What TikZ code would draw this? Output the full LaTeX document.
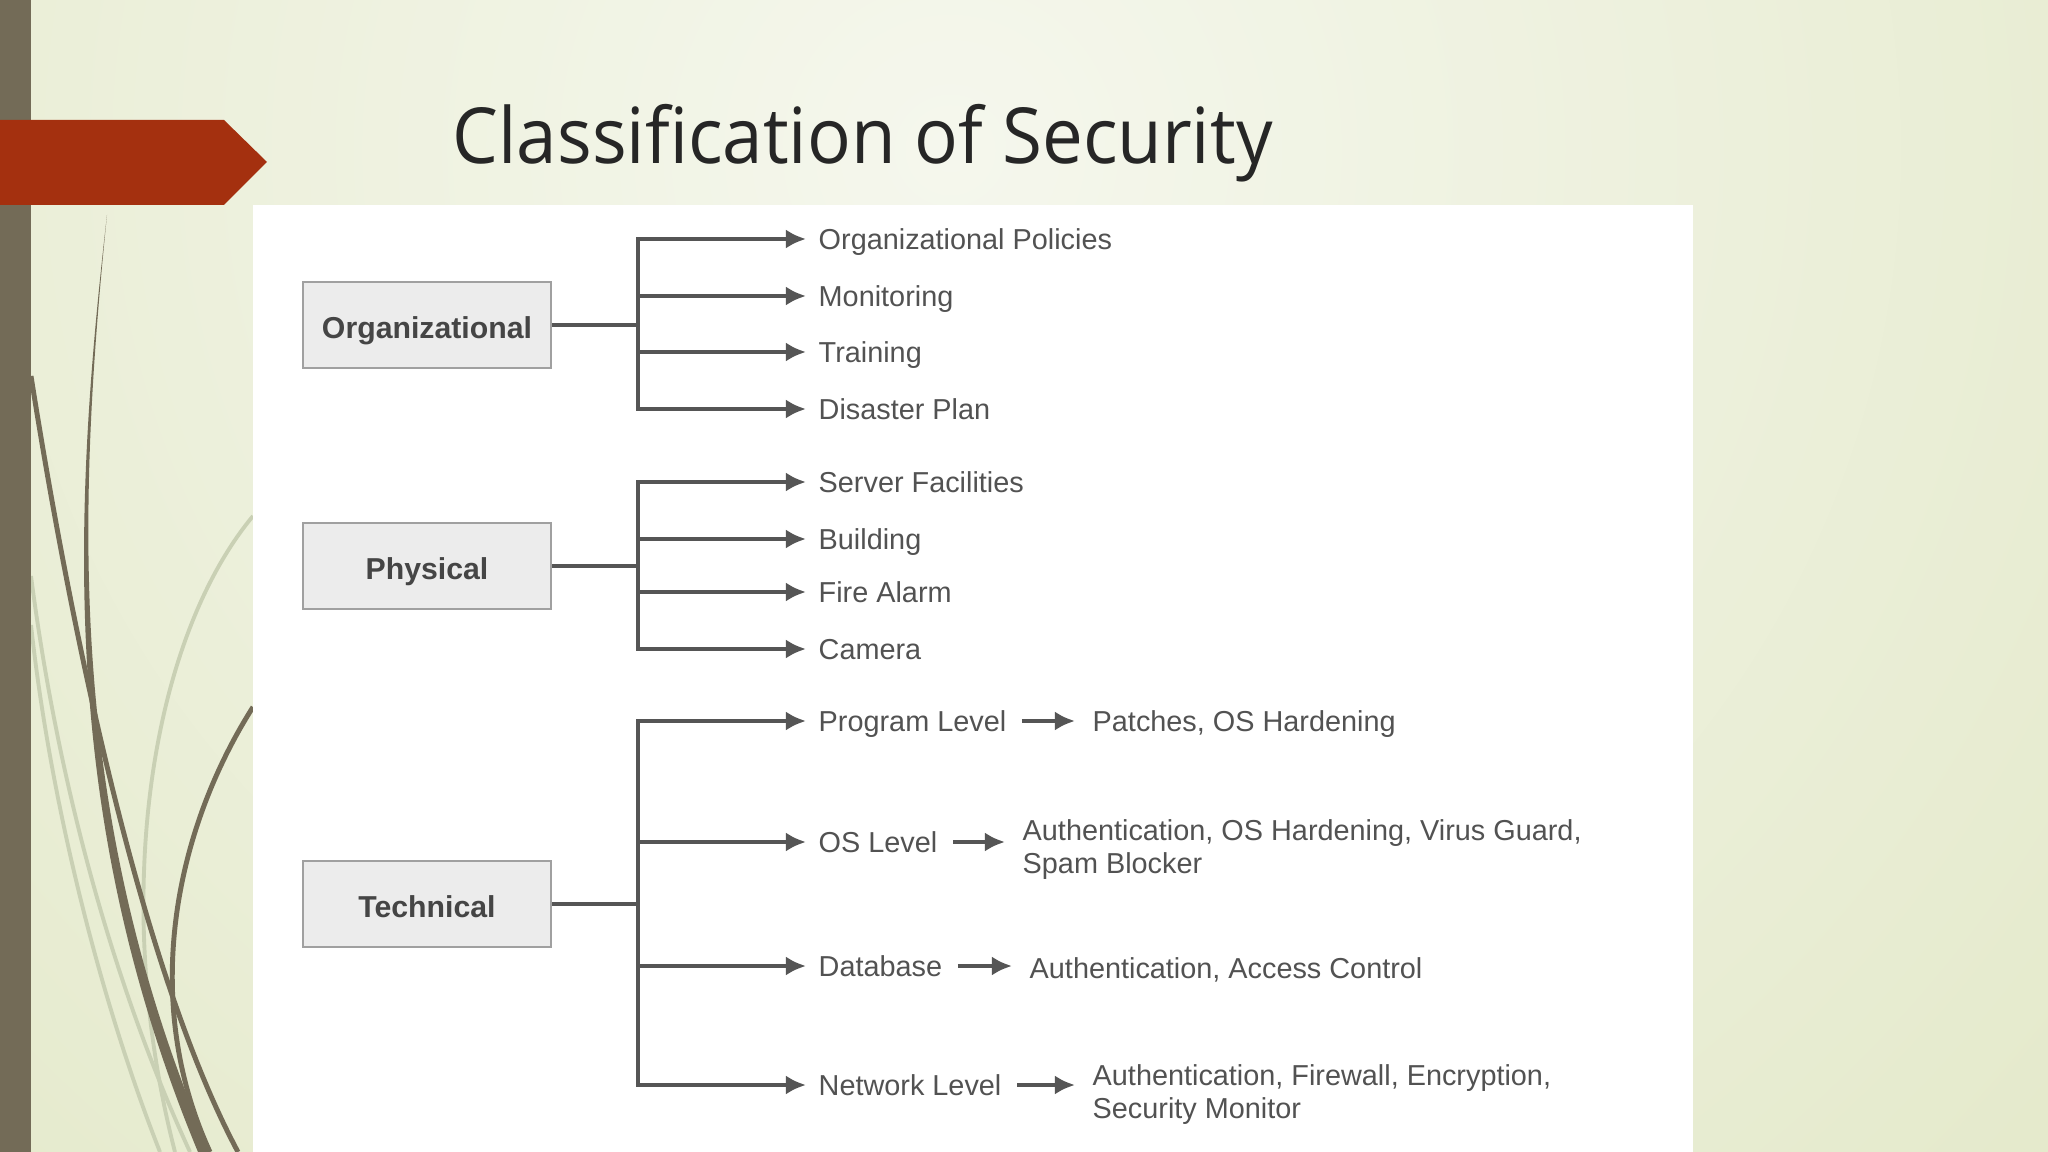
\documentclass[tikz,border=0pt]{standalone}
\usepackage{fontspec}
\usetikzlibrary{arrows.meta}
\setmainfont{Liberation Sans}
\newfontfamily\titlefont{Open Sans}[FakeStretch=0.94]
\definecolor{bglight}{HTML}{F5F7ED}
\definecolor{bgdark}{HTML}{E0E6C2}
\definecolor{bardark}{HTML}{736B57}
\definecolor{lightline}{HTML}{C9D0B4}
\definecolor{ribbon}{HTML}{A4300F}
\definecolor{titlecol}{HTML}{262626}
\definecolor{boxfill}{HTML}{ECECEC}
\definecolor{boxline}{HTML}{A0A0A0}
\definecolor{boxtext}{HTML}{454545}
\definecolor{itemtext}{HTML}{525252}
\definecolor{linecol}{HTML}{555555}
\begin{document}
\begin{tikzpicture}[x=0.01cm,y=-0.01cm,
    catbox/.style={draw=boxline, fill=boxfill, line width=0.8pt, minimum width=2.48cm,
      minimum height=0.86cm, inner sep=0pt, text height=7.6pt, text depth=0pt,
      text=boxtext, font=\bfseries\fontsize{8.6pt}{10pt}\selectfont},
    item/.style={anchor=west, inner xsep=0.12cm, inner ysep=0pt, text height=5.9pt,
      text depth=0pt, text=itemtext, font=\fontsize{8.2pt}{9pt}\selectfont},
    itemtwo/.style={anchor=base west, inner xsep=0.12cm, inner ysep=0pt, align=left,
      text=itemtext, font=\fontsize{8.2pt}{9.3pt}\selectfont},
    link/.style={draw=linecol, line width=1.15pt},
    arr/.style={link, -{Latex[length=0.2cm,width=0.19cm]}},
    arrtwo/.style={arr, shorten <=0.03cm, shorten >=0.05cm},
    darkline/.style={draw=bardark, line width=1.4pt},
    paleline/.style={draw=lightline, line width=1.1pt}]
  %tikz security
  \useasboundingbox (0,0) rectangle (2048,1152);
  \begin{scope}
    \clip (0,0) rectangle (2048,1152);
    \shade[inner color=bglight, outer color=bgdark] (950,150) circle (19cm);
  \end{scope}

  \draw[paleline] (253,516) .. controls (150,640) and (110,900) .. (175,1152);
  \draw[paleline] (31,576) .. controls (60,800) and (120,1000) .. (190,1152);
  \draw[paleline] (31,625) .. controls (50,800) and (100,1000) .. (160,1152);
  \fill[bardark] (107,215) .. controls (72,520) and (60,820) .. (198,1152) -- (210,1152)
    .. controls (68,820) and (76,520) .. (107,215) -- cycle;
  \draw[darkline] (31,376) .. controls (60,560) and (130,950) .. (238,1152);
  \draw[darkline] (253,707) .. controls (175,830) and (140,1000) .. (210,1152);

  \fill[white] (253,205) rectangle (1693,1152);
  \fill[bardark] (0,0) rectangle (31,1152);
  \fill[ribbon] (0,120) -- (224,120) -- (267,162) -- (224,205) -- (0,205) -- cycle;
  \node[anchor=base west, inner sep=0pt, text=titlecol, font=\titlefont\fontsize{22pt}{26pt}\selectfont]
    (title) at (452,164) {Classification of Security};

  \node[catbox] (org) at (427,325) {Organizational};
  \node[catbox] (phys) at (427,566) {Physical};
  \node[catbox] (tech) at (427,904) {Technical};

  \node[item] (o1) at (806,239) {Organizational Policies};
  \node[item] (o2) at (806,296) {Monitoring};
  \node[item] (o3) at (806,352) {Training};
  \node[item] (o4) at (806,409) {Disaster Plan};

  \node[item] (p1) at (806,482) {Server Facilities};
  \node[item] (p2) at (806,539) {Building};
  \node[item] (p3) at (806,592) {Fire Alarm};
  \node[item] (p4) at (806,649) {Camera};

  \node[item] (pl) at (806,721) {Program Level};
  \node[item] (osl) at (806,842) {OS Level};
  \node[item] (dbl) at (806,966) {Database};
  \node[item] (nl) at (806,1085) {Network Level};

  \node[item] (pld) at (1080,721) {Patches, OS Hardening};
  \node[itemtwo] (osd) at (1010,873) {Authentication, OS Hardening, Virus Guard,\\Spam Blocker};
  \node[item] (dbd) at (1017,968) {Authentication, Access Control};
  \node[itemtwo] (nd) at (1080,1118) {Authentication, Firewall, Encryption,\\Security Monitor};

  \coordinate (orgt) at (638,239);
  \coordinate (physt) at (638,482);
  \coordinate (techt) at (638,721);

  \draw[link] (org.east) -- (org.east -| orgt);
  \draw[link, line cap=rect] (orgt |- o1.west) -- (orgt |- o4.west);
  \foreach \n in {o1,o2,o3,o4} \draw[arr] (orgt |- \n.west) -- (\n.west);

  \draw[link] (phys.east) -- (phys.east -| physt);
  \draw[link, line cap=rect] (physt |- p1.west) -- (physt |- p4.west);
  \foreach \n in {p1,p2,p3,p4} \draw[arr] (physt |- \n.west) -- (\n.west);

  \draw[link] (tech.east) -- (tech.east -| techt);
  \draw[link, line cap=rect] (techt |- pl.west) -- (techt |- nl.west);
  \foreach \n in {pl,osl,dbl,nl} \draw[arr] (techt |- \n.west) -- (\n.west);

  \draw[arrtwo] (pl.east) -- (pld.west);
  \draw[arrtwo] (osl.east) -- (osl.east -| osd.west);
  \draw[arrtwo] (dbl.east) -- (dbl.east -| dbd.west);
  \draw[arrtwo] (nl.east) -- (nl.east -| nd.west);
\end{tikzpicture}
\end{document}
